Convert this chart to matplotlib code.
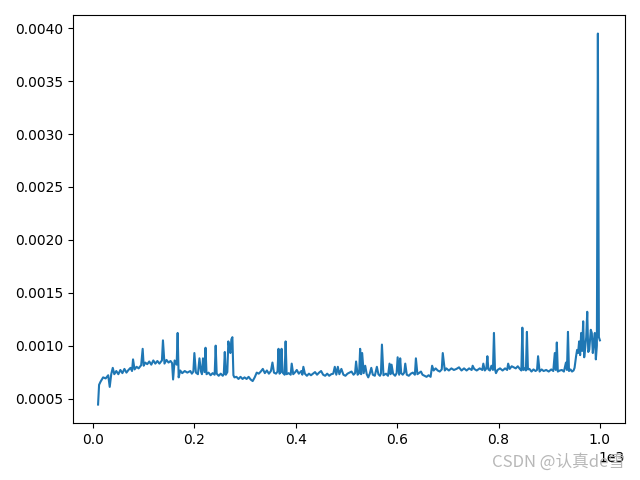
import numpy as np
import matplotlib
matplotlib.use("Agg")
import matplotlib.pyplot as plt

# valores (y en unidades de 1e-4)
x_pts = [
    10, 12, 15, 20, 25, 30, 33, 36, 39, 42, 46, 50, 54, 58, 62, 66, 70, 74, 77, 79,
    82, 86, 90, 95, 98, 100, 103, 107, 111, 115, 119, 123, 127, 131, 136, 138, 141, 145, 149, 153,
    156, 158, 161, 165, 167, 169, 172, 176, 181, 186, 192,
    195, 198, 200, 203, 207, 210, 213, 215, 217, 220, 222, 224, 228, 232, 236, 240, 242, 244, 248,
    252, 256, 258, 260, 262, 265, 267, 269, 271, 273, 275, 277, 279,
    283, 287, 291, 295, 299, 303, 307, 311, 315, 319, 323, 327, 331, 335, 339, 343, 347, 351, 354,
    357, 361, 364, 366, 368, 370, 372, 374, 378, 380, 382,
    386, 390, 392, 395, 399, 402, 406, 411, 413, 415, 418, 422, 426, 430, 434, 438, 442, 446, 450,
    454, 458, 462, 466, 470, 474, 477, 480, 483, 486, 490, 494, 498, 502, 506, 510, 514, 517, 519,
    522, 525, 527, 529, 531, 534, 537, 540, 543, 546, 549, 552, 556, 560, 563, 566, 568, 570, 573,
    578, 582, 585, 587, 589, 592, 596, 599, 601, 604, 606, 608, 611, 614, 616, 619, 623, 627, 631,
    635, 637, 640, 644, 647, 650, 654, 658, 662, 666, 669, 672, 676, 680, 684, 688, 690, 694,
    697, 702, 707, 712, 717, 722, 727, 732, 737, 742, 747, 749, 752, 757, 763, 768, 770, 773, 776,
    778, 780, 783, 786, 789, 791, 793, 795, 798, 803, 808, 813, 817, 819, 822, 826, 830, 834, 838,
    842, 845, 847, 849, 852, 854, 856, 858, 861, 865, 869, 873, 876, 878, 881, 885, 889, 894, 899,
    904, 908, 911, 913, 915, 917, 921, 925, 929, 933, 935, 937, 939, 942, 945, 948,
    950, 953, 955, 957, 959, 961, 963, 965, 967, 969, 971, 973, 975, 977, 979, 982, 984, 986, 988,
    990, 992, 994, 996, 998, 1000,
]
y_pts = [
    4.43, 6.3, 6.6, 7.0, 6.9, 7.2, 6.1, 7.3, 7.9, 7.3, 7.6, 7.3, 7.7, 7.4, 7.8, 7.45, 7.7, 7.9, 7.6, 8.7,
    7.75, 8.0, 7.85, 8.15, 9.7, 8.1, 8.4, 8.25, 8.5, 8.2, 8.6, 8.3, 8.55, 8.3, 8.6, 10.5, 8.3, 8.65, 8.4, 8.55,
    8.35, 6.8, 8.6, 8.2, 11.2, 7.0, 7.65, 7.4, 7.6, 7.45, 7.6,
    7.35, 7.55, 9.3, 7.45, 7.3, 8.8, 7.55, 7.3, 8.8, 7.5, 9.8, 7.3, 7.45, 7.2, 7.4, 7.25, 10.0, 7.35, 7.15,
    7.35, 7.15, 7.3, 9.4, 7.25, 7.5, 10.4, 9.8, 9.3, 10.6, 10.8, 7.2, 7.0,
    7.05, 6.85, 7.05, 6.85, 7.0, 6.85, 7.05, 6.8, 6.65, 7.0, 7.45, 7.35, 7.55, 7.8, 7.4, 7.65, 7.35, 7.6, 8.4,
    7.45, 7.35, 7.55, 9.7, 7.35, 7.5, 9.7, 7.45, 7.25, 10.4, 7.3,
    7.4, 7.25, 8.3, 7.3, 7.5, 7.7, 7.35, 7.6, 7.25, 8.0, 7.35, 7.15, 7.35, 7.2, 7.35, 7.5, 7.25, 7.45, 7.6,
    7.25, 7.15, 7.35, 7.15, 7.3, 7.35, 8.0, 7.25, 8.0, 7.3, 7.8, 7.25, 7.15, 7.35, 7.45, 7.55, 7.25, 7.4, 8.5,
    7.25, 7.4, 9.7, 7.3, 9.3, 7.4, 8.1, 7.3, 7.0, 7.35, 7.9, 7.25, 7.15, 8.0, 7.3, 7.15, 7.35, 10.1, 7.2,
    7.35, 7.15, 8.3, 7.3, 8.2, 7.35, 7.15, 7.4, 8.9, 7.25, 8.8, 7.4, 7.25, 7.45, 8.3, 7.25, 7.15, 7.35, 7.45,
    7.25, 8.8, 7.3, 7.45, 7.55, 7.25, 7.15, 7.05, 7.2, 7.05, 8.1, 7.65, 7.85, 7.65, 7.55, 7.75, 9.3, 7.65,
    7.85, 7.65, 7.85, 7.7, 7.8, 7.95, 7.65, 7.85, 7.65, 7.85, 7.7, 8.1, 7.8, 7.65, 7.85, 7.7, 8.3, 7.65, 7.85,
    9.0, 7.75, 7.65, 8.1, 7.7, 11.2, 7.75, 7.4, 7.7, 7.85, 7.65, 7.85, 7.7, 8.3, 7.8, 8.05, 7.95, 7.85, 8.05,
    7.8, 7.65, 11.7, 7.7, 7.85, 7.65, 11.3, 7.75, 7.8, 7.55, 7.75, 7.6, 7.7, 9.0, 7.55, 7.75, 7.6, 7.7, 7.55,
    7.75, 7.6, 9.3, 7.7, 10.3, 7.55, 7.65, 7.7, 7.55, 8.4, 7.7, 11.3, 7.6, 7.75, 7.55, 7.65,
    7.9, 9.0, 9.6, 9.3, 10.4, 9.1, 11.2, 9.5, 12.3, 8.9, 9.8, 10.8, 13.2, 9.4, 9.6, 11.5, 11.2, 9.3, 10.4,
    11.2, 8.7, 10.0, 39.5, 10.8, 10.5,
]

x = np.array(x_pts)
y = np.array(y_pts) * 1e-4

fig, ax = plt.subplots(figsize=(6.4, 4.8), dpi=100)
ax.plot(x, y)
ax.ticklabel_format(axis='x', style='sci', scilimits=(0, 0))
fig.tight_layout()

# marca de agua
fig.text(0.977, 0.027, "CSDN @认真de雪", ha='right', va='baseline',
         fontsize=12, color='#b0b0b0', alpha=0.9,
         family=['Noto Sans CJK SC', 'DejaVu Sans'])

fig.savefig("out.png")
